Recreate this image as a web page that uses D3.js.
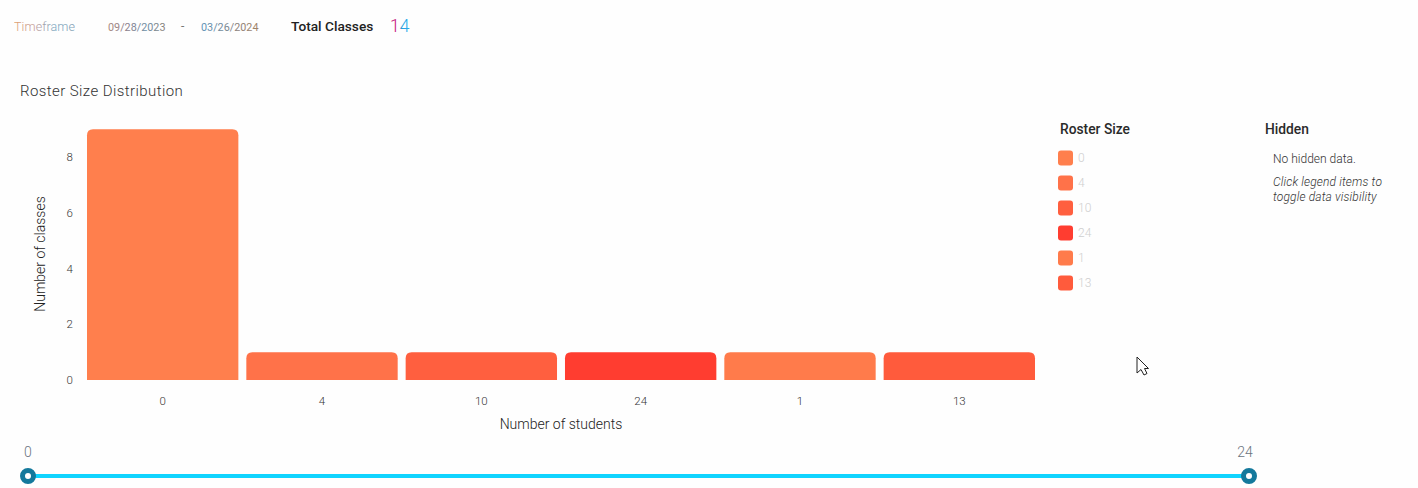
<!DOCTYPE html>
<html>
<head>
<meta charset="utf-8">
<script src="https://cdnjs.cloudflare.com/ajax/libs/d3/7.8.5/d3.min.js"></script>
<style>
  html, body { margin: 0; padding: 0; background: #fefefe; overflow: hidden; }
  svg { display: block; font-family: Roboto, sans-serif; opacity: 0.999; }
</style>
</head>
<body>
<svg id="chart" width="1418" height="488"></svg>
<script>
const rosterSizes = ["0", "4", "10", "24", "1", "13"];
const classCounts = [9, 1, 1, 1, 1, 1];
const barColors = ["#ff7f4d", "#ff7249", "#ff5f3f", "#ff3d30", "#ff7b4b", "#ff5b3c"];
const yTicks = [0, 2, 4, 6, 8];
const sliderRange = [0, 24];
const timeframe = ["09/28/2023", "03/26/2024"];
const totalClasses = "14";

const svg = d3.select("#chart");
const defs = svg.append("defs");

const addGradient = function(id, stops) {
    const g = defs.append("linearGradient").attr("id", id);
    stops.forEach((c, i) => {
        g.append("stop")
            .attr("offset", i / (stops.length - 1))
            .attr("stop-color", c);
    });
};
addGradient("gradTimeframe", ["#e0a070", "#c09a98", "#80a8c0", "#7f9cb0"]);
addGradient("gradDateA", ["#a88a80", "#8c7f8c", "#6f8ea4", "#8a8078"]);
addGradient("gradDateB", ["#5f93b8", "#6f8a9c", "#8c8078", "#a08468"]);
addGradient("gradTotal", ["#c2187a", "#c2187a", "#c2187a", "#1e9fe0", "#2aa8e8", "#2aa8e8"]);

// header
svg.append("text").text("Timeframe")
    .attr("x", 14).attr("y", 31)
    .attr("font-size", 12.5).attr("font-weight", 300)
    .attr("letter-spacing", "0.1")
    .attr("fill", "url(#gradTimeframe)");
svg.append("text").text(timeframe[0])
    .attr("x", 108).attr("y", 31)
    .attr("font-size", 10.8).attr("fill", "url(#gradDateA)");
svg.append("text").text("-")
    .attr("x", 181).attr("y", 30)
    .attr("font-size", 12).attr("fill", "#777");
svg.append("text").text(timeframe[1])
    .attr("x", 201).attr("y", 31)
    .attr("font-size", 10.8).attr("fill", "url(#gradDateB)");
svg.append("text").text("Total Classes")
    .attr("x", 291).attr("y", 31)
    .attr("font-size", 13.7).attr("font-weight", 500).attr("fill", "#222");
svg.append("text").text(totalClasses)
    .attr("x", 390).attr("y", 32)
    .attr("font-size", 17.5).attr("font-weight", 300)
    .attr("fill", "url(#gradTotal)");

svg.append("text").text("Roster Size Distribution")
    .attr("x", 20).attr("y", 96)
    .attr("font-size", 15).attr("font-weight", 300)
    .attr("letter-spacing", "0.42")
    .attr("fill", "#333");

// scales
const x = d3.scaleBand()
    .domain(rosterSizes)
    .range([87, 1035])
    .paddingInner(0.05)
    .paddingOuter(0);
const y = d3.scaleLinear()
    .domain([0, 8])
    .range([380, 157]);

// bars, rounded on top only
const barPath = function(d, i) {
    const x0 = x(rosterSizes[i]), w = x.bandwidth(), top = y(d), bottom = y(0), r = 6;
    return "M" + x0 + "," + bottom + "V" + (top + r) +
        "Q" + x0 + "," + top + " " + (x0 + r) + "," + top +
        "H" + (x0 + w - r) +
        "Q" + (x0 + w) + "," + top + " " + (x0 + w) + "," + (top + r) +
        "V" + bottom + "Z";
};
svg.append("g").selectAll("path").data(classCounts).enter().append("path")
    .attr("d", barPath)
    .attr("fill", (d, i) => barColors[i]);

// y axis
const yAxis = svg.append("g")
    .attr("transform", "translate(83,0)")
    .call(d3.axisLeft(y).tickValues(yTicks).tickSize(0).tickPadding(10));
yAxis.select(".domain").remove();
yAxis.selectAll("text")
    .attr("font-family", "Roboto, sans-serif")
    .attr("font-size", 11.5).attr("font-weight", 300).attr("fill", "#333");

// x axis
const xAxis = svg.append("g")
    .attr("transform", "translate(0,380)")
    .call(d3.axisBottom(x).tickSize(0).tickPadding(16.5));
xAxis.select(".domain").remove();
xAxis.selectAll("text")
    .attr("font-family", "Roboto, sans-serif")
    .attr("font-size", 11.5).attr("font-weight", 300).attr("fill", "#333");

svg.append("text").text("Number of students")
    .attr("x", 561).attr("y", 429)
    .attr("text-anchor", "middle")
    .attr("font-size", 14).attr("font-weight", 300)
    .attr("fill", "#222");
svg.append("text").text("Number of classes")
    .attr("transform", "translate(45,254) rotate(-90)")
    .attr("text-anchor", "middle")
    .attr("font-size", 14).attr("font-weight", 300)
    .attr("fill", "#222");

// legend
svg.append("text").text("Roster Size")
    .attr("x", 1060).attr("y", 134)
    .attr("font-size", 13.8).attr("font-weight", 500).attr("fill", "#2a2a2a");
const legendY = d3.scalePoint().domain(rosterSizes).range([158, 283]);
const legend = svg.append("g").selectAll("g").data(rosterSizes).enter().append("g")
    .attr("transform", d => "translate(1058," + legendY(d) + ")");
legend.append("rect")
    .attr("x", 0).attr("y", -7.5)
    .attr("width", 15).attr("height", 15).attr("rx", 3)
    .attr("fill", (d, i) => barColors[i]);
legend.append("text").text(d => d)
    .attr("x", 20).attr("y", 4)
    .attr("font-size", 12).attr("font-weight", 300).attr("fill", "#cfcfcf");

// hidden panel
svg.append("text").text("Hidden")
    .attr("x", 1265).attr("y", 134)
    .attr("font-size", 13.8).attr("font-weight", 500).attr("fill", "#2a2a2a");
svg.append("text").text("No hidden data.")
    .attr("x", 1273).attr("y", 163)
    .attr("font-size", 12).attr("font-weight", 300).attr("fill", "#333");
svg.append("text").text("Click legend items to")
    .attr("x", 1273).attr("y", 186)
    .attr("font-size", 12).attr("font-weight", 300).attr("font-style", "italic")
    .attr("letter-spacing", "0.15").attr("fill", "#333");
svg.append("text").text("toggle data visibility")
    .attr("x", 1273).attr("y", 201)
    .attr("font-size", 12).attr("font-weight", 300).attr("font-style", "italic")
    .attr("letter-spacing", "0.15").attr("fill", "#333");

// range slider
const sx = d3.scaleLinear().domain(sliderRange).range([28, 1249]);
svg.append("line")
    .attr("x1", sx(sliderRange[0])).attr("x2", sx(sliderRange[1]))
    .attr("y1", 476).attr("y2", 476)
    .attr("stroke", "#10d4ff").attr("stroke-width", 4);
svg.append("g").selectAll("circle").data(sliderRange).enter().append("circle")
    .attr("cx", d => sx(d)).attr("cy", 476).attr("r", 5.5)
    .attr("fill", "#fff").attr("stroke", "#14799c").attr("stroke-width", 5);
svg.append("g").selectAll("text").data(sliderRange).enter().append("text")
    .text(d => d)
    .attr("x", d => sx(d) - (d === 0 ? 0 : 4)).attr("y", 457)
    .attr("text-anchor", "middle")
    .attr("font-size", 14).attr("font-weight", 300).attr("fill", "#6b7480");

// mouse pointer caught in the screenshot
svg.append("path")
    .attr("d", "M1137,357V373L1141,369.5L1144,375L1147,373.5L1144.5,368.5H1148.5Z")
    .attr("fill", "#fff").attr("stroke", "#222").attr("stroke-width", 1);
</script>
</body>
</html>
